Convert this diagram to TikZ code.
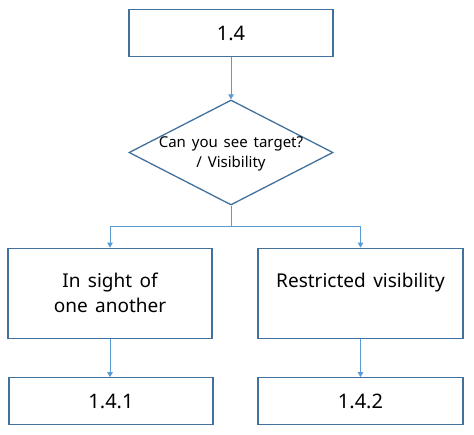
\documentclass[tikz,border=0pt]{standalone}
\usepackage{fontspec}
\setmainfont{Noto Sans}[WordSpace=1.5]
\usetikzlibrary{shapes.geometric,arrows.meta}
\definecolor{boxline}{HTML}{41719C}
\definecolor{arrline}{HTML}{5B9BD5}
\begin{document}
\begin{tikzpicture}[x=1pt,y=1pt,
  boxnode/.style={draw=boxline, line width=1.3pt, fill=white, inner sep=0pt, align=center},
  conn/.style={draw=arrline, line width=0.9pt, -{Triangle[width=5.5pt,length=5pt]}},
  plain/.style={draw=arrline, line width=0.9pt}]
\useasboundingbox (0,0) rectangle (474,-434);
\node[boxnode, minimum width=204, minimum height=47, font=\fontsize{20}{24}\selectfont] (top) at (231,-33) {1.4};
\node[diamond, draw=boxline, line width=1.3pt, inner sep=0pt, minimum width=204, minimum height=105] (dia) at (231,-152.5) {};
\node[align=center, font=\fontsize{15}{20}\selectfont, inner sep=0pt] (diatext) at ([yshift=-1]dia.center) {Can you see target?\\/ Visibility};
\node[boxnode, minimum width=204, minimum height=90, font=\fontsize{19}{25}\selectfont] (left) at (110,-293.3) {In sight of\\one another};
\node[boxnode, minimum width=205, minimum height=90, font=\fontsize{19}{25}\selectfont] (right) at (360.5,-293.3) {Restricted visibility\\\phantom{one}};
\node[boxnode, minimum width=204, minimum height=47, font=\fontsize{20}{24}\selectfont] (bl) at (111,-401.3) {1.4.1};
\node[boxnode, minimum width=205, minimum height=47, font=\fontsize{20}{24}\selectfont] (br) at (360.5,-401.3) {1.4.2};
\coordinate (split) at (231,-226.7);
\draw[conn] (top.south) -- (dia.north);
\draw[plain] (dia.south) -- (split);
\draw[conn] (split) -| (left.north);
\draw[conn] (split) -| (right.north);
\draw[conn] (left.south) -- (left.south |- bl.north);
\draw[conn] (right.south) -- (right.south |- br.north);
\end{tikzpicture}
\end{document}
